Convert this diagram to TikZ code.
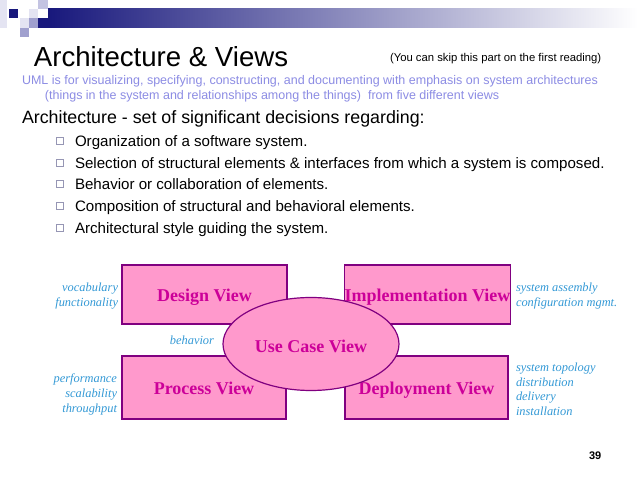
\documentclass[tikz,border=0pt]{standalone}
\usepackage{fontspec}
\setmainfont{Liberation Sans}
\newfontfamily\tms{Liberation Serif}
\usetikzlibrary{shapes.geometric}
\definecolor{navyc}{RGB}{24,24,124}
\definecolor{paleA}{RGB}{228,228,242}
\definecolor{paleB}{RGB}{196,196,226}
\definecolor{paleC}{RGB}{160,160,206}
\definecolor{umlc}{RGB}{140,140,228}
\definecolor{bulc}{RGB}{150,150,180}
\definecolor{boxfill}{RGB}{255,153,204}
\definecolor{boxdraw}{RGB}{128,0,128}
\definecolor{boxtext}{RGB}{204,0,153}
\definecolor{lblc}{RGB}{51,153,214}
\tikzset{
  txt/.style={inner sep=0pt, outer sep=0pt, anchor=base west},
  viewbox/.style={draw=boxdraw, line width=1.2pt, fill=boxfill, text=boxtext,
    font=\tms\bfseries\fontsize{18}{20}\selectfont, inner sep=0pt,
    text height=15pt, text depth=0pt},
  usecase/.style={ellipse, draw=boxdraw, line width=1.2pt, fill=boxfill, text=boxtext,
    font=\tms\bfseries\fontsize{18}{20}\selectfont, inner sep=0pt,
    minimum width=176pt, minimum height=93pt, text height=18pt, text depth=0pt},
  lbl/.style={inner sep=0pt, outer sep=0pt, text=lblc, font=\tms\itshape\fontsize{12.4}{14}\selectfont},
  lblL/.style={lbl, anchor=base east},
  lblR/.style={lbl, anchor=base west},
  bulletbox/.style={draw=bulc, line width=0.6pt, minimum size=7pt, inner sep=0pt, fill=white},
  bul/.style={txt, font=\fontsize{15.1}{18}\selectfont},
}
\begin{document}
\begin{tikzpicture}[x=1pt,y=-1pt]
\useasboundingbox[fill=white] (0,0) rectangle (638,478);
% header decoration
\fill[paleA] (0,0) rectangle (7,28);
\fill[navyc] (9,9) rectangle (18,18);
\fill[paleB] (38,0) rectangle (48,9);
\fill[paleA] (29,9) rectangle (38,18);
\fill[paleA] (20,18) rectangle (29,28);
\fill[paleC] (29,18) rectangle (38,28);
\fill[paleC] (20,28) rectangle (29,37);
\fill[navyc] (38,18) rectangle (48,28);
\shade[left color=navyc, right color=white] (48,9) rectangle (638,28);
% titles
\node[txt, font=\fontsize{27.6}{32}\selectfont] (title) at (34,67) {Architecture \& Views};
\node[txt, font=\fontsize{11.3}{13}\selectfont] (skip) at (390,62) {(You can skip this part on the first reading)};
\node[txt, text=umlc, font=\fontsize{12.5}{15}\selectfont] (uml1) at (22,85) {UML is for visualizing, specifying, constructing, and documenting with emphasis on system architectures};
\node[txt, text=umlc, font=\fontsize{12.5}{15}\selectfont] (uml2) at (45,100) {(things in the system and relationships among the things)\ \ from five different views};
\node[txt, font=\fontsize{17.8}{21}\selectfont] (arch) at (22,124) {Architecture - set of significant decisions regarding:};
% bullets
\node[bul] (t1) at (75,147) {Organization of a software system.};
\node[bul] (t2) at (75,168.5) {Selection of structural elements \& interfaces from which a system is composed.};
\node[bul] (t3) at (75,190) {Behavior or collaboration of elements.};
\node[bul] (t4) at (75,212) {Composition of structural and behavioral elements.};
\node[bul] (t5) at (75,233.5) {Architectural style guiding the system.};
\node[bulletbox] (s1) at (59.5,141) {};
\node[bulletbox] (s2) at (59.5,162.5) {};
\node[bulletbox] (s3) at (59.5,184) {};
\node[bulletbox] (s4) at (59.5,206) {};
\node[bulletbox] (s5) at (59.5,227.5) {};
% diagram
\node[viewbox, minimum width=165pt, minimum height=59pt] (design) at (204.5,294.5) {Design View};
\node[viewbox, minimum width=164pt, minimum height=63pt] (process) at (204,387.5) {Process View};
\node[viewbox, minimum width=165pt, minimum height=59pt] (impl) at (427.5,294.5) {Implementation View};
\node[viewbox, minimum width=163pt, minimum height=63pt] (deploy) at (426.5,387.5) {Deployment View};
\node[usecase] (usecase) at (311,344) {Use Case View};
% labels
\node[lblL] (l1) at (118,292) {vocabulary};
\node[lblL] (l2) at (118,307) {functionality};
\node[lblL] (l3) at (214,345) {behavior};
\node[lblL] (l4) at (117,383) {performance};
\node[lblL] (l5) at (117,398) {scalability};
\node[lblL] (l6) at (117,413) {throughput};
\node[lblR] (r1) at (516,292) {system assembly};
\node[lblR] (r2) at (516,307) {configuration mgmt.};
\node[lblR] (r3) at (516,372) {system topology};
\node[lblR] (r4) at (516,387) {distribution};
\node[lblR] (r5) at (516,401) {delivery};
\node[lblR] (r6) at (516,416) {installation};
% page number
\node[txt, font=\bfseries\fontsize{11}{13}\selectfont] (pg) at (589,460) {39};
\end{tikzpicture}
\end{document}
